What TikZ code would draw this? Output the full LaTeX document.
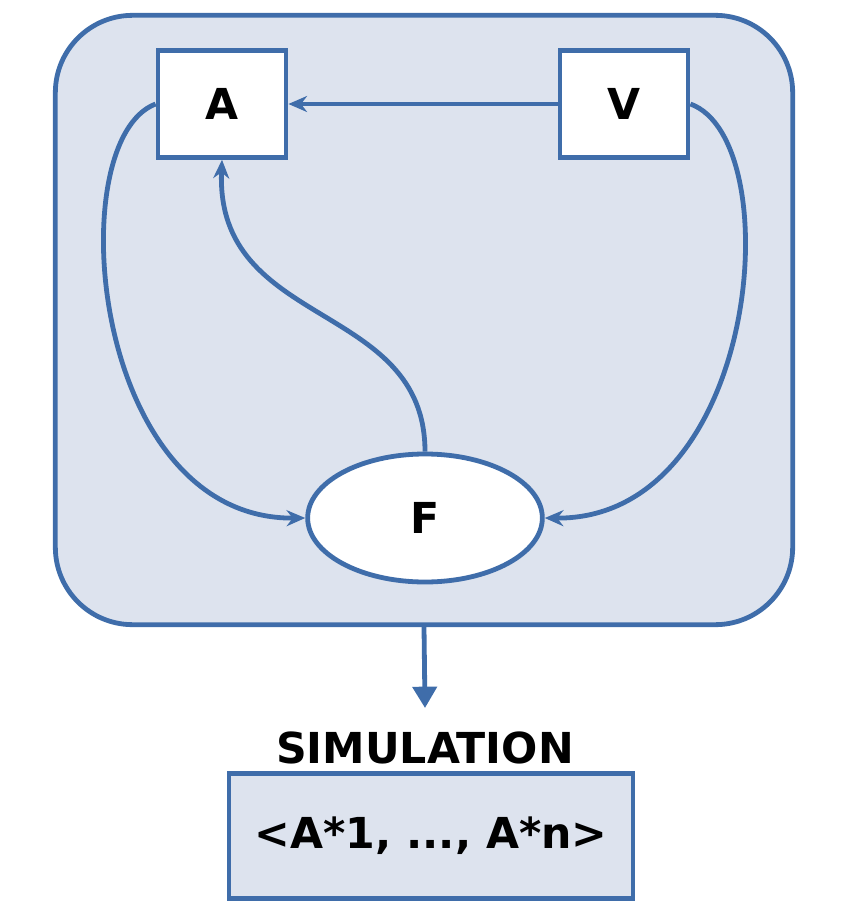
\documentclass[tikz,border=0pt]{standalone}
\usepackage{fontspec}
\setmainfont{DejaVu Sans}
\usetikzlibrary{arrows.meta,shapes.geometric}
\definecolor{edge}{HTML}{3F6DAA}
\definecolor{bg}{HTML}{DDE3EE}
\begin{document}
\begin{tikzpicture}[x=0.75pt,y=-0.75pt,
  ln/.style={draw=edge,line width=3.6pt},
  arr/.style={ln,-{Stealth[length=14pt,width=12pt]}},
  lbl/.style={font=\fontsize{32}{36}\selectfont\bfseries}]
\useasboundingbox (0,0) rectangle (852,902);
\node[ln,fill=bg,rounded corners=58pt,minimum width=553pt,minimum height=457pt] (outer) at (424,320) {};
\node[ln,fill=white,minimum width=96pt,minimum height=80pt,lbl] (A) at (222,104) {A};
\node[ln,fill=white,minimum width=96pt,minimum height=80pt,lbl] (V) at (624,104) {V};
\node[ln,fill=white,ellipse,minimum width=176pt,minimum height=96pt,lbl] (F) at (425,518) {F};
\draw[arr] (V.west) -- (A.east);
\draw[arr] (A.west) .. controls (60,140) and (90,520) .. (F.west);
\draw[arr] (V.east) .. controls (790,140) and (760,520) .. (F.east);
\draw[arr] (F.north) .. controls (425,300) and (215,330) .. (A.south);
\node[lbl] (sim) at (425,748) {SIMULATION};
\node[ln,fill=bg,minimum width=303pt,minimum height=94pt,lbl] (res) at (431,836) {<A*1, ..., A*n>};
\draw[ln,-{Triangle[length=16pt,width=18pt]}] (outer.south) -- (425,708);
\end{tikzpicture}
\end{document}
